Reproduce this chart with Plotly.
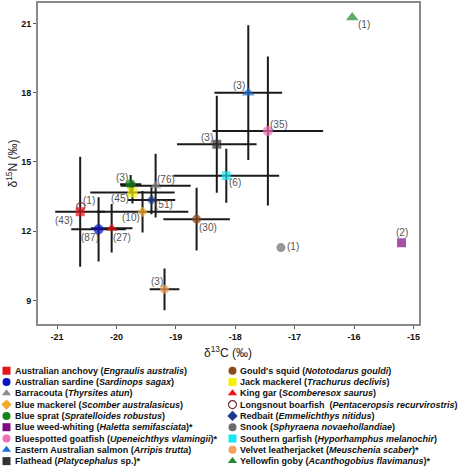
import plotly.graph_objects as go

# ---------------- data ----------------
species = ["Australian anchovy", "Australian sardine", "Barracouta", "Blue mackerel",
           "Blue sprat", "Blue weed-whiting", "Bluespotted goatfish",
           "Eastern Australian salmon", "Flathead", "Gould's squid", "Jack mackerel",
           "King gar", "Longsnout boarfish ", "Redbait", "Snook", "Southern garfish",
           "Velvet leatherjacket", "Yellowfin goby"]
scientific = ["Engraulis australis", "Sardinops sagax", "Thyrsites atun",
              "Scomber australasicus", "Spratelloides robustus", "Haletta semifasciata",
              "Upeneichthys vlamingii", "Arripis trutta", "Platycephalus",
              "Nototodarus gouldi", "Trachurus declivis", "Scomberesox saurus",
              "Pentaceropsis recurvirostris", "Emmelichthys nitidus",
              "Sphyraena novaehollandiae", "Hyporhamphus melanochir",
              "Meuschenia scaber", "Acanthogobius flavimanus"]
sci_suffix = ["", "", "", "", "", "", "", "", " sp.", "", "", "", "", "", "", "", "", ""]
asterisk = ["", "", "", "", "", "*", "*", "", "*", "", "", "", "", "", "", "", "*", "*"]
d13C = [-20.61, -20.30, -19.34, -19.56, -19.76, -15.20, -17.45, -17.78, -18.31,
        -18.65, -19.73, -20.08, -20.60, -19.41, -17.23, -18.15, -19.19, -16.03]
d15N = [12.84, 12.08, 13.97, 12.84, 14.03, 11.50, 16.34, 18.00, 15.77,
        12.52, 13.68, 12.13, 13.06, 13.35, 11.29, 14.40, 9.48, 21.25]
sd13C = [0.42, 0.46, 0.59, 0.77, 0.18, 0.0, 0.93, 0.57, 0.67,
         0.56, 0.71, 0.35, 0.0, 0.40, 0.0, 0.89, 0.25, 0.0]
sd15N = [2.38, 1.39, 1.38, 0.90, 0.40, 0.0, 3.23, 2.92, 2.10,
         1.36, 0.48, 1.05, 0.0, 0.62, 0.0, 1.17, 0.90, 0.0]
n_samples = [43, 87, 76, 10, 3, 2, 35, 3, 3, 30, 45, 27, 1, 51, 1, 6, 3, 1]
x_ticks = [-21, -20, -19, -18, -17, -16, -15]
y_ticks = [9, 12, 15, 18, 21]

# ---------------- styles ----------------
colors = ["#e8141c", "#0c12c8", "#8c8c8c", "#f2a92c", "#13861a", "#800a80",
          "#f06eb4", "#1e6ed2", "#333333", "#8b4a1c", "#f5f00a", "#ee1111",
          "#7a2a2a", "#1c3a8c", "#6b6b6b", "#19e6f0", "#f4a05a", "#1e8a28"]
symbols = ["square", "circle", "triangle-up", "diamond", "circle", "square", "circle",
           "triangle-up", "square", "circle", "square", "triangle-up", "circle-open",
           "diamond", "circle", "square", "circle", "triangle-up"]
plot_sizes = [9, 10, 10, 8, 10, 9, 10, 11, 9, 9, 10, 10, 8, 8, 9, 9, 9, 11]
label_offsets = [(-15.7, 8.3), (-9, 8), (10.3, -6.4), (-11.6, 5.6), (-9, -6.6),
                 (0, -10.4), (11.3, -6.7), (-9.3, -6.7), (-10, -6.7), (11.6, 8),
                 (-12.3, 6), (10, 9), (8.6, -6.7), (12.6, 4.3), (11.7, -1),
                 (8.3, 7), (-7.6, -7.6), (12, 6.6)]

FONT = "Liberation Sans, Arial, sans-serif"
W = H = 474
plot_left, plot_right, plot_top, plot_bottom = 37.7, 419.0, 3.3, 324.0

fig = go.Figure()

fig.add_trace(go.Scatter(
    x=d13C, y=d15N, mode="markers",
    marker=dict(symbol=symbols, color=colors, size=plot_sizes,
                line=dict(width=[0 if s != "circle-open" else 1.5 for s in symbols],
                          color=colors)),
    error_x=dict(type="data", array=sd13C, visible=True, thickness=2,
                 width=0, color="#1a1a1a"),
    error_y=dict(type="data", array=sd15N, visible=True, thickness=2,
                 width=0, color="#1a1a1a"),
    showlegend=False, hoverinfo="skip"))

annotations = []
for i in range(len(species)):
    dx, dy = label_offsets[i]
    annotations.append(dict(x=d13C[i], y=d15N[i], xref="x", yref="y",
                            text=f"({n_samples[i]})", showarrow=False,
                            xshift=dx, yshift=-dy,
                            font=dict(family=FONT, size=10, color="#555555")))

# ---------------- manual legend (two columns) ----------------
rows_per_col = 9
col_marker_x = [6.5, 232.5]
col_text_x = [14.0, 239.0]
row0_y = 370.7
row_step = 11.3
leg_top = 360.0
leg_x, leg_y = [], []
for i in range(len(species)):
    c, r = divmod(i, rows_per_col)
    leg_x.append(col_marker_x[c])
    leg_y.append(row0_y + r * row_step)
    sci_txt = f"<i>{scientific[i]}</i>{sci_suffix[i]}"
    annotations.append(dict(
        x=col_text_x[c] / W, y=1 - (row0_y + r * row_step) / H,
        xref="paper", yref="paper", xanchor="left", yanchor="middle",
        text=f"<b>{species[i]} ({sci_txt}){asterisk[i]}</b>",
        showarrow=False, borderpad=0,
        font=dict(family=FONT, size=9, color="#111111")))

leg_symbols = list(symbols)
leg_symbols[9] = "circle"
fig.add_trace(go.Scatter(
    x=leg_x, y=leg_y, xaxis="x2", yaxis="y2", mode="markers",
    marker=dict(symbol=leg_symbols, color=colors, size=8,
                line=dict(width=[0 if s != "circle-open" else 1.2 for s in leg_symbols],
                          color=["#333333" if s == "circle-open" else c
                                 for s, c in zip(leg_symbols, colors)])),
    showlegend=False, hoverinfo="skip"))

# axis titles
annotations.append(dict(x=(plot_left + plot_right) / 2 / W, y=1 - 351.5 / H,
                        xref="paper", yref="paper", xanchor="center", yanchor="middle",
                        text="δ<sup>13</sup>C (‰)", showarrow=False,
                        font=dict(family=FONT, size=12, color="#222222")))
annotations.append(dict(x=11.5 / W, y=1 - 164 / H,
                        xref="paper", yref="paper", xanchor="center", yanchor="middle",
                        text="δ<sup>15</sup>N (‰)", showarrow=False, textangle=-90,
                        font=dict(family=FONT, size=12, color="#222222")))

axis_common = dict(showgrid=False, zeroline=False, showline=True, mirror=True,
                   linecolor="#8a8a8a", linewidth=1.5, ticks="outside", ticklen=3,
                   tickcolor="#555555", tickwidth=1,
                   tickfont=dict(family=FONT, size=9, color="#111111", weight="bold"))

fig.update_layout(
    width=W, height=H, margin=dict(l=0, r=0, t=0, b=0),
    paper_bgcolor="white", plot_bgcolor="rgba(0,0,0,0)",
    xaxis=dict(domain=[plot_left / W, plot_right / W], range=[-21.325, -14.906],
               tickvals=x_ticks, ticktext=[str(v) for v in x_ticks], **axis_common),
    yaxis=dict(domain=[1 - plot_bottom / H, 1 - plot_top / H], range=[7.98, 21.87],
               tickvals=y_ticks, ticktext=[str(v) for v in y_ticks], **axis_common),
    xaxis2=dict(domain=[0, 1], range=[0, W], visible=False, anchor="y2"),
    yaxis2=dict(domain=[0, 1 - leg_top / H], range=[H, leg_top], visible=False,
                anchor="x2"),
    annotations=annotations,
)

fig.write_html("out.html")
